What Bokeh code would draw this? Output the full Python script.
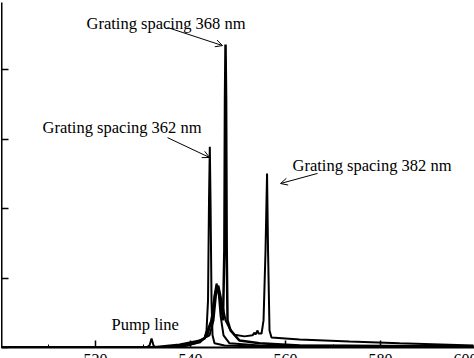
from bokeh.plotting import figure
from bokeh.models import Range1d, SingleIntervalTicker, Label, Arrow, OpenHead, CustomJSTickFormatter
from bokeh.embed import file_html
from bokeh.resources import INLINE

# Wavelength (nm) and intensity (a.u.)
wl_362 = [500.0, 533.47, 535.58, 538.74, 541.89, 542.95, 543.37, 543.68, 543.89, 544.06,
          544.21, 544.42, 544.63, 545.05, 547.16, 554.53, 599.58]
int_362 = [0.0, 0.0, 0.003, 0.009, 0.017, 0.026, 0.049, 0.135, 0.423, 0.578,
           0.423, 0.135, 0.035, 0.012, 0.006, 0.003, 0.0]

wl_368 = [500.0, 537.68, 540.84, 542.95, 544.42, 545.26, 545.68, 546.32, 546.84, 547.12,
          547.26, 547.37, 547.49, 547.62, 547.79, 548.42, 550.32, 554.53, 562.95, 599.58]
int_368 = [0.0, 0.0, 0.012, 0.026, 0.078, 0.158, 0.170, 0.135, 0.078, 0.279,
           0.711, 0.872, 0.711, 0.279, 0.078, 0.049, 0.020, 0.012, 0.006, 0.003]

wl_382 = [500.0, 531.37, 537.68, 541.89, 544.0, 544.84, 545.47, 545.89, 546.53, 547.37,
          548.21, 549.26, 551.37, 553.05, 553.47, 553.68, 554.11, 554.32, 554.95, 555.37,
          555.79, 556.11, 556.32, 556.63, 557.05, 562.95, 573.47, 584.0, 599.58]
int_382 = [0.0, 0.0, 0.009, 0.020, 0.035, 0.078, 0.164, 0.178, 0.135, 0.078,
           0.055, 0.037, 0.032, 0.035, 0.043, 0.037, 0.049, 0.040, 0.040, 0.078,
           0.279, 0.501, 0.279, 0.049, 0.029, 0.023, 0.017, 0.012, 0.006]

wl_pump = [500.0, 530.74, 531.37, 531.79, 532.21, 532.63, 537.68, 541.89, 543.58, 544.42,
           545.05, 545.47, 545.89, 546.32, 546.95, 548.21, 554.53, 599.58]
int_pump = [0.0, 0.0, 0.006, 0.026, 0.006, 0.0, 0.003, 0.014, 0.035, 0.078,
            0.150, 0.184, 0.164, 0.092, 0.035, 0.012, 0.006, 0.003]

x_ticks_step = 20
y_ticks_step = 0.2

p = figure(frame_width=476, frame_height=345, output_backend="svg", toolbar_location=None,
           x_range=Range1d(500.2, 600.42), y_range=Range1d(0, 0.993),
           min_border_left=0, min_border_top=0, min_border_right=0, min_border_bottom=0,
           margin=(2, 0, 0, 1))
p.grid.visible = False
p.outline_line_color = None

series = [(wl_pump, int_pump, 2), (wl_362, int_362, 2), (wl_368, int_368, 2.5), (wl_382, int_382, 2)]
for xs, ys, lw in series:
    p.line(xs, ys, line_color="black", line_width=lw)

p.xaxis.ticker = SingleIntervalTicker(interval=x_ticks_step, num_minor_ticks=2)
p.yaxis.ticker = SingleIntervalTicker(interval=y_ticks_step, num_minor_ticks=0)
for ax in (p.xaxis, p.yaxis):
    ax.axis_line_width = 2
    ax.axis_line_color = "black"
    ax.major_tick_in = 7
    ax.major_tick_out = 0
    ax.minor_tick_in = 3
    ax.minor_tick_out = 0
    ax.major_tick_line_width = 1.5
    ax.major_tick_line_color = "black"
    ax.minor_tick_line_color = "black"
p.xaxis.major_label_text_font = "Liberation Serif"
p.xaxis.major_label_text_font_size = "16px"
p.xaxis.major_label_text_color = "black"
p.xaxis.major_label_standoff = 6
p.yaxis.formatter = CustomJSTickFormatter(code="return '';")
p.yaxis.major_label_standoff = 0
p.yaxis.minor_tick_line_color = None

font = "Liberation Serif"
fs = "16.5px"
labels = [
    ("Grating spacing 368 nm", 518.1, 0.932),
    ("Grating spacing 362 nm", 508.84, 0.633),
    ("Grating spacing 382 nm", 561.47, 0.524),
    ("Pump line", 523.37, 0.066),
]
for t, x, y in labels:
    p.add_layout(Label(x=x, y=y, text=t, text_font=font, text_font_size=fs,
                       text_color="black", text_baseline="alphabetic", text_align="left"))

arrows = [
    (535.16, 0.921, 546.74, 0.869),
    (535.16, 0.604, 544.0, 0.547),
    (566.74, 0.501, 558.95, 0.472),
]
for x0, y0, x1, y1 in arrows:
    p.add_layout(Arrow(end=OpenHead(size=7, line_width=1, line_color="black"),
                       x_start=x0, y_start=y0, x_end=x1, y_end=y1,
                       line_width=1, line_color="black"))

open("out.html", "w").write(file_html(p, INLINE))
